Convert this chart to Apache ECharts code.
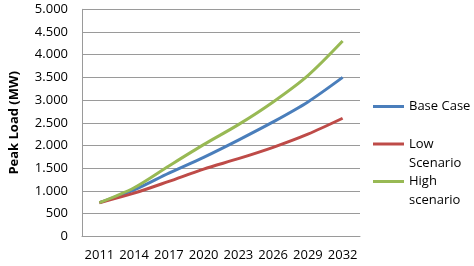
<!DOCTYPE html>
<html>
<head>
<meta charset="utf-8">
<script src="https://cdn.jsdelivr.net/npm/echarts@6/dist/echarts.min.js"></script>
<style>
  html, body { margin: 0; padding: 0; background: #fff; }
  #chart { width: 474px; height: 266px; }
</style>
</head>
<body>
<div id="chart"></div>
<script>
// values (MW)
var years = ['2011', '2014', '2017', '2020', '2023', '2026', '2029', '2032'];
var baseCase = [740, 1020, 1390, 1740, 2120, 2520, 2960, 3500];
var lowScenario = [740, 950, 1210, 1480, 1710, 1960, 2250, 2600];
var highScenario = [740, 1070, 1550, 2020, 2460, 2960, 3540, 4300];

var font = 'Open Sans';
var gray = '#9a9a9a';

function legendAt(name, label, top) {
    return {
        data: [name],
        left: 373,
        top: top,
        padding: 0,
        orient: 'vertical',
        icon: 'rect',
        itemWidth: 31,
        itemHeight: 3,
        formatter: function () { return label; },
        textStyle: { fontFamily: font, fontSize: 13, color: '#000', lineHeight: 19 }
    };
}

var chart = echarts.init(document.getElementById('chart'));
chart.setOption({
    animation: false,
    color: ['#4a7ebb', '#be4b48', '#98b954'],
    grid: { left: 73, right: 114, top: 9.3, bottom: 29.7, containLabel: false },
    legend: [
        legendAt('Base Case', 'Base Case', 97),
        legendAt('Low Scenario', ' \nLow\nScenario', 115.5),
        legendAt('High scenario', ' \nHigh\nscenario', 153)
    ],
    xAxis: {
        type: 'category',
        data: years,
        boundaryGap: true,
        axisLine: { lineStyle: { color: gray } },
        axisTick: { show: false },
        axisLabel: { fontFamily: font, fontSize: 13, color: '#000', margin: 12, interval: 0 },
        splitLine: { show: false }
    },
    yAxis: {
        type: 'value',
        min: 0,
        max: 5000,
        interval: 500,
        name: 'Peak Load (MW)',
        nameLocation: 'middle',
        nameGap: 61,
        nameTextStyle: { fontFamily: font, fontSize: 13, fontWeight: 'bold', color: '#000' },
        axisLine: { show: true, lineStyle: { color: gray } },
        axisTick: { show: false },
        axisLabel: {
            fontFamily: font, fontSize: 13, color: '#000', margin: 14,
            formatter: function (v) { return v >= 1000 ? (v / 1000).toFixed(3) : String(v); }
        },
        splitLine: { lineStyle: { color: gray, width: 1 } }
    },
    series: [
        { name: 'Base Case', type: 'line', data: baseCase, smooth: 0.3, showSymbol: false, lineStyle: { width: 3 } },
        { name: 'Low Scenario', type: 'line', data: lowScenario, smooth: 0.3, showSymbol: false, lineStyle: { width: 3 } },
        { name: 'High scenario', type: 'line', data: highScenario, smooth: 0.3, showSymbol: false, lineStyle: { width: 3 } }
    ]
});
</script>
</body>
</html>
